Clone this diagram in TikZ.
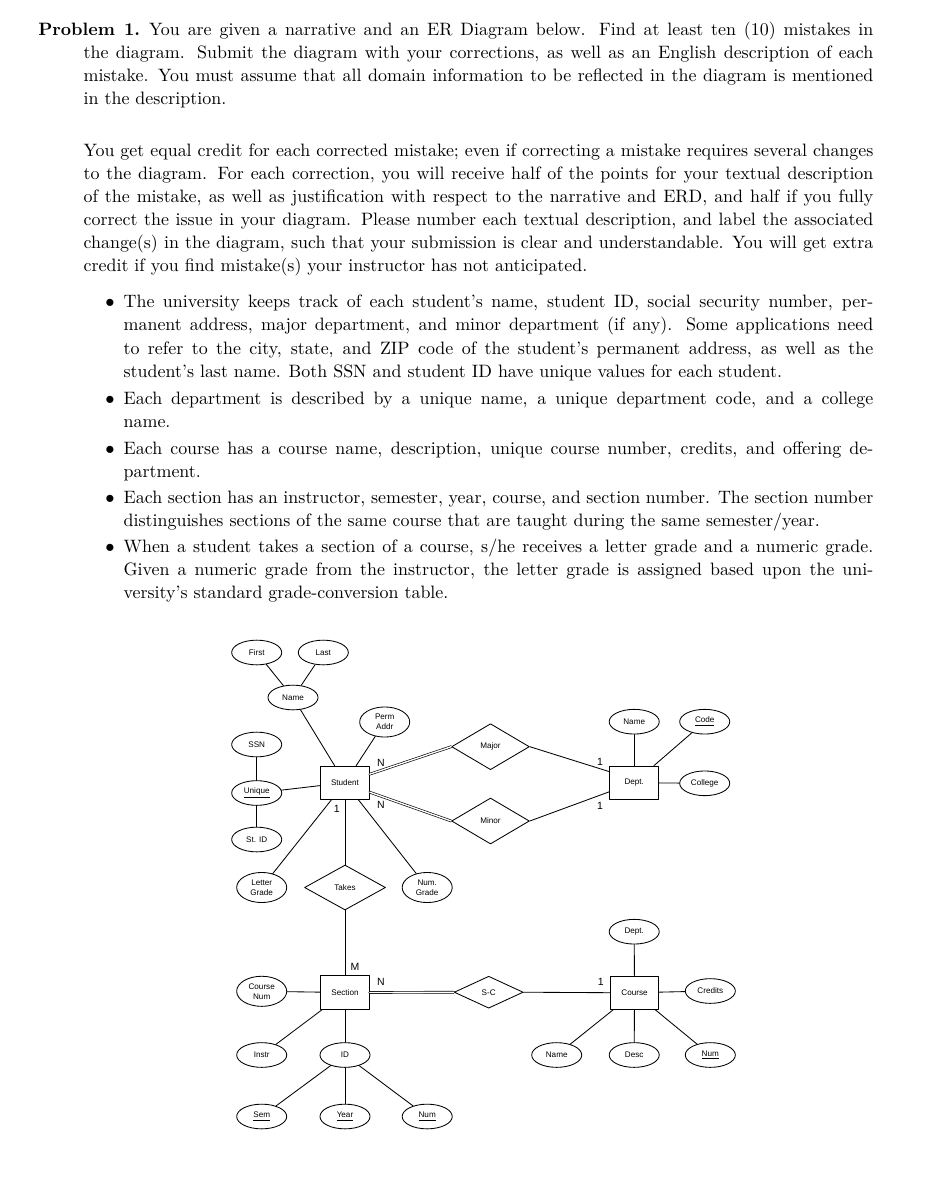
\documentclass[tikz,border=0pt]{standalone}
\usepackage{fontspec}
\newfontfamily\erfamily{Liberation Sans}
\usetikzlibrary{shapes.geometric}
\newcommand{\erfont}{\erfamily\fontsize{4.8pt}{5.9pt}\selectfont}
\newcommand{\cardfont}{\erfamily\fontsize{6.2pt}{7pt}\selectfont}
\newcommand{\bodyfont}{\fontsize{10.6pt}{13.6pt}\selectfont\tolerance=9999\hyphenpenalty=10000}
\tikzset{
  attr/.style={ellipse, draw, line width=0.5pt, minimum width=29.6pt, minimum height=14.6pt, inner sep=0pt, align=center, font=\erfont},
  attrtwo/.style={attr, minimum height=17.8pt},
  ent/.style={draw, line width=0.5pt, minimum width=28.8pt, minimum height=19.7pt, inner sep=0pt, font=\erfont},
  rel/.style={diamond, draw, line width=0.5pt, inner sep=0pt, font=\erfont},
  card/.style={inner sep=0pt, font=\cardfont},
  link/.style={line width=0.5pt},
  total/.style={double, double distance=0.8pt, line width=0.38pt},
  para/.style={inner sep=0pt, anchor=base west, align=justify, font=\bodyfont},
}
\begin{document}
\begin{tikzpicture}[x=0.5913pt, y=-0.5913pt, line join=round, line cap=round]
\useasboundingbox (0,0) rectangle (946,1198);
% the narrative
\node[para, text width=493.7pt] (prob) at (38,36) {\hangindent=26.8pt\hangafter=1 \textbf{Problem 1.}\enspace You are given a narrative and an ER Diagram below. Find at least ten (10) mistakes in\linebreak the diagram. Submit the diagram with your corrections, as well as an English description of each\linebreak mistake. You must assume that all domain information to be reflected in the diagram is mentioned\linebreak in the description.\par};
\node[para, text width=467pt] (credit) at (83.3,157) {You get equal credit for each corrected mistake; even if correcting a mistake requires several changes\linebreak to the diagram. For each correction, you will receive half of the points for your textual description\linebreak of the mistake, as well as justification with respect to the narrative and ERD, and half if you fully\linebreak correct the issue in your diagram. Please number each textual description, and label the associated\linebreak change(s) in the diagram, such that your submission is clear and understandable. You will get extra\linebreak credit if you find mistake(s) your instructor has not anticipated.\par};
\foreach \y in {308,404,454,503,552} \node[inner sep=0pt, anchor=base, font=\bodyfont] (bul\y) at (110,\y) {$\bullet$};
\node[para, text width=443.3pt] (itstu) at (123.3,308) {The university keeps track of each student's name, student ID, social security number, per-\linebreak manent address, major department, and minor department (if any). Some applications need\linebreak to refer to the city, state, and ZIP code of the student's permanent address, as well as the\linebreak student's last name. Both SSN and student ID have unique values for each student.\par};
\node[para, text width=443.3pt] (itdep) at (123.3,404) {Each department is described by a unique name, a unique department code, and a college\linebreak name.\par};
\node[para, text width=443.3pt] (itcrs) at (123.3,454) {Each course has a course name, description, unique course number, credits, and offering de-\linebreak partment.\par};
\node[para, text width=443.3pt] (itsec) at (123.3,503) {Each section has an instructor, semester, year, course, and section number. The section number\linebreak distinguishes sections of the same course that are taught during the same semester/year.\par};
\node[para, text width=443.3pt] (ittak) at (123.3,552) {When a student takes a section of a course, s/he receives a letter grade and a numeric grade.\linebreak Given a numeric grade from the instructor, the letter grade is assigned based upon the uni-\linebreak versity's standard grade-conversion table.\par};
% entities and relationships
\node[ent] (stu) at (345,782.7) {Student};
\node[ent] (dep) at (634.2,782.7) {Dept.};
\node[ent] (sec) at (345,992.5) {Section};
\node[ent] (crs) at (634.5,992.7) {Course};
\node[rel, minimum width=46pt, minimum height=27.2pt] (maj) at (490.5,746.7) {Major};
\node[rel, minimum width=46pt, minimum height=27.2pt] (minr) at (490.5,821) {Minor};
\node[rel, minimum width=47.9pt, minimum height=26.6pt] (takes) at (345,887.5) {Takes};
\node[rel, minimum width=40.8pt, minimum height=18.9pt] (sc) at (488.7,992.2) {S-C};
% attributes
\foreach \n/\x/\y/\t in {first/256.7/652.5/First, last/323.3/652.5/Last, name/293/697.5/Name, ssn/256.7/744.5/SSN, uniq/256.7/793/\underline{Unique}, stid/256.7/839.5/St. ID, dname/634.2/721.7/Name, dcode/704.7/721.7/\underline{Code}, dcoll/704.7/783.3/College, instr/261.7/1055/Instr, sid/345/1055/ID, sem/261.7/1116.5/\underline{Sem}, year/345/1116.5/\underline{Year}, snum/427.2/1116.5/\underline{Num}, cdept/634.2/931.7/Dept., ccred/710.3/991/Credits, cname/556.7/1055/Name, cdesc/634.2/1055/Desc, cnumb/710.3/1055/\underline{Num}}
  \node[attr] (\n) at (\x,\y) {\t};
\foreach \n/\x/\y/\t in {perm/384.7/722/Perm\\Addr, lgrade/261.7/887.5/Letter\\Grade, ngrade/427.2/887.5/Num.\\Grade, cnum/261.7/991.3/Course\\Num}
  \node[attrtwo] (\n) at (\x,\y) {\t};
% connectors
\foreach \a/\b in {first/name, last/name, name/stu, perm/stu, ssn/uniq, uniq/stid, uniq/stu, stu/lgrade, stu/takes, stu/ngrade, takes/sec, cnum/sec, instr/sec, sid/sec, sem/sid, year/sid, snum/sid, dname/dep, dcode/dep, dcoll/dep, cdept/crs, ccred/crs, cname/crs, cdesc/crs, cnumb/crs}
  \draw[link] (\a)--(\b);
\draw[total] (stu.19)--(maj.west) (stu.-21)--(minr.west) (sec.east)--(sc.west);
\draw[link] (maj.east)--(dep.156) (minr.east)--(dep.200) (sc.east)--(crs.west);
% cardinalities
\foreach \n/\x/\y/\t in {cmaj/381/762.5/N, cmin/381/805/N, cstu/336.7/809/1, ctak/355/966.7/M, csec/381/981.7/N, cdma/600/761.7/1, cdmi/600/805.5/1, ccrs/600.7/981.7/1}
  \node[card] (\n) at (\x,\y) {\t};
\end{tikzpicture}
\end{document}
